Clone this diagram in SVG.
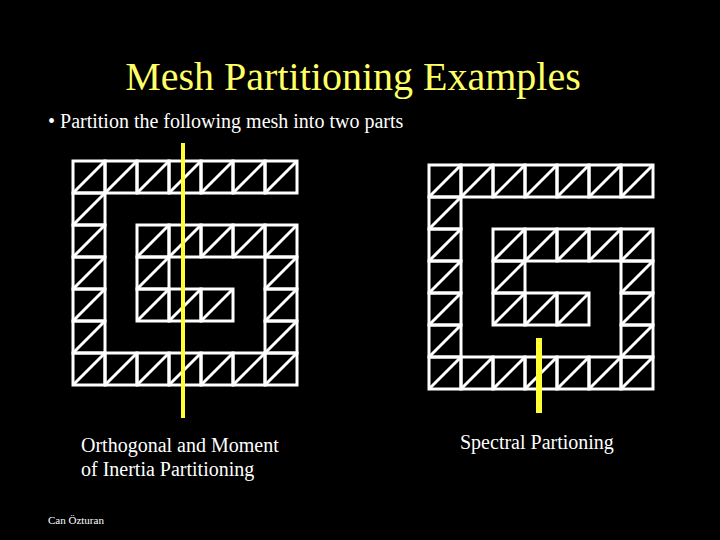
<svg xmlns="http://www.w3.org/2000/svg" xmlns:xlink="http://www.w3.org/1999/xlink" width="720" height="540" viewBox="0 0 720 540">
<style>
.t{font-family:"Liberation Serif",serif;fill:#fff}
.c rect,.c line{fill:none;stroke:#fff;stroke-width:3}
</style>
<defs>
<g id="c" class="c"><rect x="0" y="0" width="32" height="32"/><line x1="0" y1="32" x2="32" y2="0"/></g>
<g id="mesh">
<use href="#c" x="0" y="0"/><use href="#c" x="32" y="0"/><use href="#c" x="64" y="0"/><use href="#c" x="96" y="0"/><use href="#c" x="128" y="0"/><use href="#c" x="160" y="0"/><use href="#c" x="192" y="0"/>
<use href="#c" x="0" y="32"/><use href="#c" x="0" y="64"/><use href="#c" x="0" y="96"/><use href="#c" x="0" y="128"/><use href="#c" x="0" y="160"/><use href="#c" x="0" y="192"/>
<use href="#c" x="32" y="192"/><use href="#c" x="64" y="192"/><use href="#c" x="96" y="192"/><use href="#c" x="128" y="192"/><use href="#c" x="160" y="192"/><use href="#c" x="192" y="192"/>
<use href="#c" x="192" y="64"/><use href="#c" x="192" y="96"/><use href="#c" x="192" y="128"/><use href="#c" x="192" y="160"/>
<use href="#c" x="64" y="64"/><use href="#c" x="96" y="64"/><use href="#c" x="128" y="64"/><use href="#c" x="160" y="64"/>
<use href="#c" x="64" y="96"/><use href="#c" x="64" y="128"/><use href="#c" x="96" y="128"/><use href="#c" x="128" y="128"/>
</g>
</defs>
<rect width="720" height="540" fill="#000"/>
<text x="353" y="90" text-anchor="middle" font-family="Liberation Serif,serif" font-size="40" fill="#ffff66">Mesh Partitioning Examples</text>
<text class="t" x="48" y="128" font-size="20">• Partition the following mesh into two parts</text>
<g id="mesh-left"><use href="#mesh" x="73" y="161"/></g>
<g id="mesh-right"><use href="#mesh" x="429" y="165"/></g>
<g id="cuts">
<line x1="183" y1="143" x2="183" y2="418" stroke="#ffff33" stroke-width="4"/>
<line x1="539" y1="338" x2="539" y2="413" stroke="#ffff33" stroke-width="6"/>
</g>
<text class="t" x="81" y="452" font-size="20">Orthogonal and Moment</text>
<text class="t" x="81" y="476" font-size="20">of Inertia Partitioning</text>
<text class="t" x="460" y="449" font-size="20">Spectral Partioning</text>
<text class="t" x="48" y="524" font-size="11">Can Özturan</text>
</svg>
